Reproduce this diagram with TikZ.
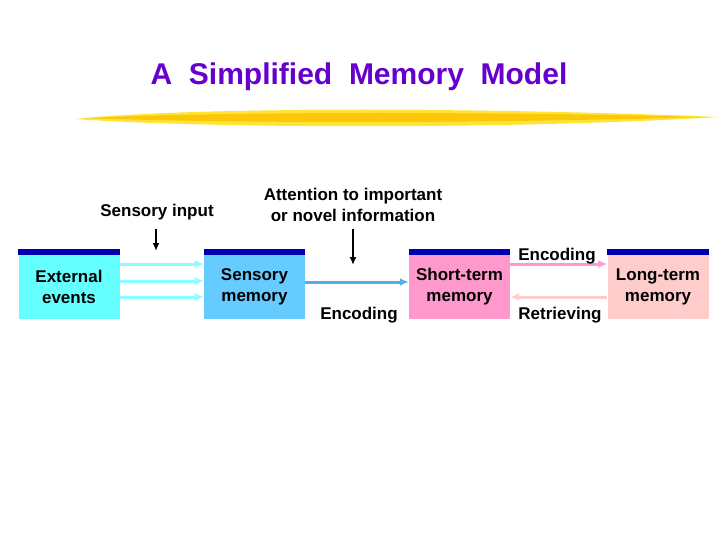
\documentclass[tikz,border=0pt]{standalone}
\usepackage{fontspec}
\usetikzlibrary{arrows.meta}
\setmainfont{Liberation Sans}
\definecolor{extc}{HTML}{66FFFF}
\definecolor{senc}{HTML}{66CCFF}
\definecolor{stmc}{HTML}{FF99CC}
\definecolor{ltmc}{HTML}{FFCCCC}
\definecolor{titc}{HTML}{6600CC}
\begin{document}
\begin{tikzpicture}[x=1pt,y=-1pt,
  box/.style={minimum width=101pt,minimum height=64pt,inner sep=0pt,align=center,font=\bfseries\fontsize{17}{21}\selectfont},
  band/.style={fill=blue!70!black,draw=none},
  lab/.style={font=\bfseries\fontsize{17}{21}\selectfont,align=center,inner sep=0pt},
  thin/.style={-{Latex[length=9pt,width=8pt]},line width=3pt}]
\useasboundingbox (0,0) rectangle (720,540);
\node[font=\bfseries\fontsize{30}{34}\selectfont,text=titc] (title) at (359,77) {A\ \ Simplified\ \ Memory\ \ Model};
\fill[yellow!80!orange,opacity=0.8] (75,119) .. controls (200,106) and (500,108) .. (720,117) .. controls (500,130) and (200,128) .. (75,119) -- cycle;
\fill[yellow!60!orange] (85,118) .. controls (250,111) and (500,112) .. (700,117) .. controls (500,123) and (250,124) .. (85,118) -- cycle;
\node[box,fill=extc] (ext) at (69,287) {External\\events};
\node[box,fill=senc] (sen) at (254.5,287) {Sensory\\memory};
\node[box,fill=stmc] (stm) at (459.5,287) {Short-term\\memory};
\node[box,fill=ltmc] (ltm) at (658,287) {Long-term\\memory};
\foreach \b in {ext,sen,stm,ltm}{\fill[band] (\b.north west) rectangle ([yshift=6pt]\b.north east);}
\draw[thin,extc!80] (ext.east|-0,264) -- (sen.west|-0,264);
\draw[thin,extc!80] (ext.east|-0,281) -- (sen.west|-0,281);
\draw[thin,extc!80] (ext.east|-0,297) -- (sen.west|-0,297);
\draw[thin,cyan!80!blue!70] (sen.east|-0,282) -- (stm.west|-0,282);
\draw[thin,stmc] (stm.east|-0,264) -- (ltm.west|-0,264);
\draw[thin,ltmc] (ltm.west|-0,297) -- (stm.east|-0,297);
\node[lab] (si) at (157,212) {Sensory input};
\node[lab] (att) at (353,205) {Attention to important\\or novel information};
\coordinate (a1) at (156,229); \coordinate (a1e) at (156,251);
\coordinate (a2) at (353,229); \coordinate (a2e) at (353,265);
\draw[-{Latex[length=8pt,width=7pt]},line width=1.6pt] (a1) -- (a1e);
\draw[-{Latex[length=8pt,width=7pt]},line width=1.6pt] (a2) -- (a2e);
\node[lab] (enc1) at (359,315) {Encoding};
\node[lab] (enc2) at (557,256) {Encoding};
\node[lab] (ret) at (560,315) {Retrieving};
\end{tikzpicture}
\end{document}
